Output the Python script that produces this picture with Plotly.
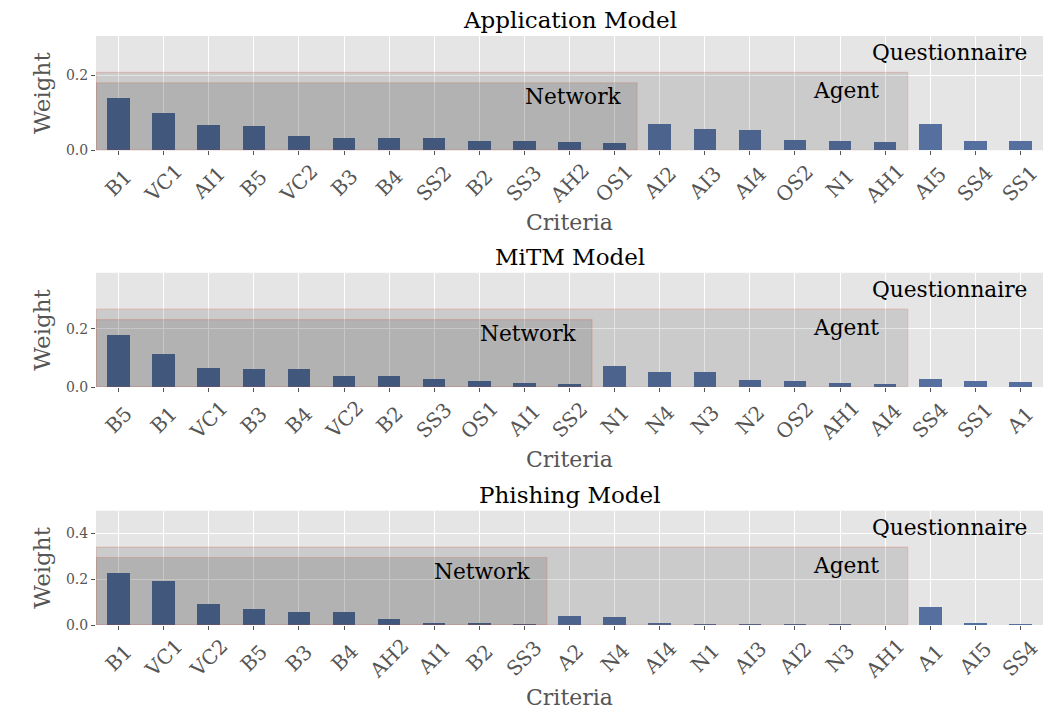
import plotly.graph_objects as go
from plotly.subplots import make_subplots

# Data
titles = ['Application Model', 'MiTM Model', 'Phishing Model']

app_criteria = ['B1', 'VC1', 'AI1', 'B5', 'VC2', 'B3', 'B4', 'SS2', 'B2', 'SS3', 'AH2',
                'OS1', 'AI2', 'AI3', 'AI4', 'OS2', 'N1', 'AH1', 'AI5', 'SS4', 'SS1']
app_weights = [0.139, 0.100, 0.068, 0.065, 0.037, 0.032, 0.032, 0.032, 0.026, 0.025, 0.023,
               0.020, 0.070, 0.056, 0.053, 0.027, 0.025, 0.021, 0.070, 0.025, 0.024]

mitm_criteria = ['B5', 'B1', 'VC1', 'B3', 'B4', 'VC2', 'B2', 'SS3', 'OS1', 'AI1', 'SS2',
                 'N1', 'N4', 'N3', 'N2', 'OS2', 'AH1', 'AI4', 'SS4', 'SS1', 'A1']
mitm_weights = [0.178, 0.113, 0.067, 0.063, 0.063, 0.037, 0.037, 0.029, 0.023, 0.015, 0.012,
                0.072, 0.053, 0.053, 0.026, 0.021, 0.016, 0.012, 0.028, 0.022, 0.017]

phish_criteria = ['B1', 'VC1', 'VC2', 'B5', 'B3', 'B4', 'AH2', 'AI1', 'B2', 'SS3',
                  'A2', 'N4', 'AI4', 'N1', 'AI3', 'AI2', 'N3', 'AH1', 'A1', 'AI5', 'SS4']
phish_weights = [0.227, 0.195, 0.091, 0.071, 0.058, 0.058, 0.026, 0.010, 0.009, 0.007,
                 0.040, 0.035, 0.012, 0.007, 0.006, 0.004, 0.003, 0.001, 0.081, 0.009, 0.007]

# number of criteria in the Network group and in Network+Agent
network_counts = [12, 11, 10]
agent_counts = [18, 18, 18]

models = [(app_criteria, app_weights), (mitm_criteria, mitm_weights), (phish_criteria, phish_weights)]

serif = 'DejaVu Serif'
gray = '#555555'

fig = make_subplots(rows=3, cols=1, vertical_spacing=0.2)

domains = [[0.806, 1.0], [0.404, 0.598], [0.0, 0.194]]

for i, (crit, w) in enumerate(models):
    r = i + 1
    xa = 'x' if r == 1 else 'x%d' % r
    ya = 'y' if r == 1 else 'y%d' % r
    top = max(w)
    fig.add_trace(go.Bar(x=crit, y=w, width=0.5, marker_color='#55709f',
                         marker_line_width=0, showlegend=False), row=r, col=1)

    n_end = network_counts[i] - 0.5
    a_end = agent_counts[i] - 0.5
    last = len(crit) - 0.5

    # Agent region then Network region
    fig.add_shape(type='rect', xref=xa, yref=ya, x0=-0.5, x1=a_end, y0=0, y1=top * 1.5,
                  fillcolor='rgba(0,0,0,0.11)', line=dict(color='rgba(226,74,51,0.2)', width=1.2),
                  layer='above')
    fig.add_shape(type='rect', xref=xa, yref=ya, x0=-0.5, x1=n_end, y0=0, y1=top * 1.3,
                  fillcolor='rgba(0,0,0,0.12)', line=dict(color='rgba(226,74,51,0.2)', width=1.2),
                  layer='above')

    fig.add_annotation(x=last - 0.3, y=0.855, xref=xa, yref=ya + ' domain', text='Questionnaire',
                       xanchor='right', yanchor='middle', showarrow=False,
                       font=dict(family=serif, size=21.7, color='black'))
    fig.add_annotation(x=a_end - 0.6, y=0.52, xref=xa, yref=ya + ' domain', text='Agent',
                       xanchor='right', yanchor='middle', showarrow=False,
                       font=dict(family=serif, size=21.7, color='black'))
    fig.add_annotation(x=n_end - 0.3, y=0.47, xref=xa, yref=ya + ' domain', text='Network',
                       xanchor='right', yanchor='middle', showarrow=False,
                       font=dict(family=serif, size=21.7, color='black'))

    # rotated tick labels centred on the ticks (matplotlib style)
    for c in crit:
        fig.add_annotation(x=c, y=0, xref=xa, yref=ya + ' domain', text=c, textangle=-45,
                           yshift=-33, showarrow=False, xanchor='center', yanchor='middle',
                           font=dict(family=serif, size=20, color=gray))

    fig.add_annotation(x=0.5, y=0, xref=xa + ' domain', yref=ya + ' domain', text='Criteria',
                       yshift=-72, showarrow=False, yanchor='middle',
                       font=dict(family=serif, size=22, color=gray))
    fig.add_annotation(x=0.5, y=1, xref=xa + ' domain', yref=ya + ' domain', text=titles[i],
                       yshift=16, showarrow=False, yanchor='middle', borderpad=0,
                       font=dict(family=serif, size=23, color='black'))

    fig.update_xaxes(row=r, col=1, showticklabels=False, ticks='outside', ticklen=4,
                     tickcolor=gray, showgrid=True, gridcolor='white', gridwidth=1,
                     range=[-0.5, len(crit) - 0.5], showline=False, zeroline=False,
                     automargin=False)
    fig.update_yaxes(row=r, col=1, range=[0, top * 2.2], dtick=0.2, tickformat='.1f',
                     ticks='outside', ticklen=4, tickcolor=gray, showgrid=True,
                     gridcolor='white', gridwidth=1, zeroline=False, showline=False,
                     domain=domains[i], automargin=False,
                     title=dict(text='Weight', standoff=8,
                                font=dict(family=serif, size=23, color=gray)),
                     tickfont=dict(family=serif, size=14, color=gray))

# the page adds an 8px body margin, so the figure is a little smaller than the window
fig.update_layout(width=1055, height=705, margin=dict(l=88, r=20, t=28, b=88),
                  plot_bgcolor='#e5e5e5', paper_bgcolor='white', bargap=0,
                  font=dict(family=serif, color=gray))

fig.write_html('out.html')
